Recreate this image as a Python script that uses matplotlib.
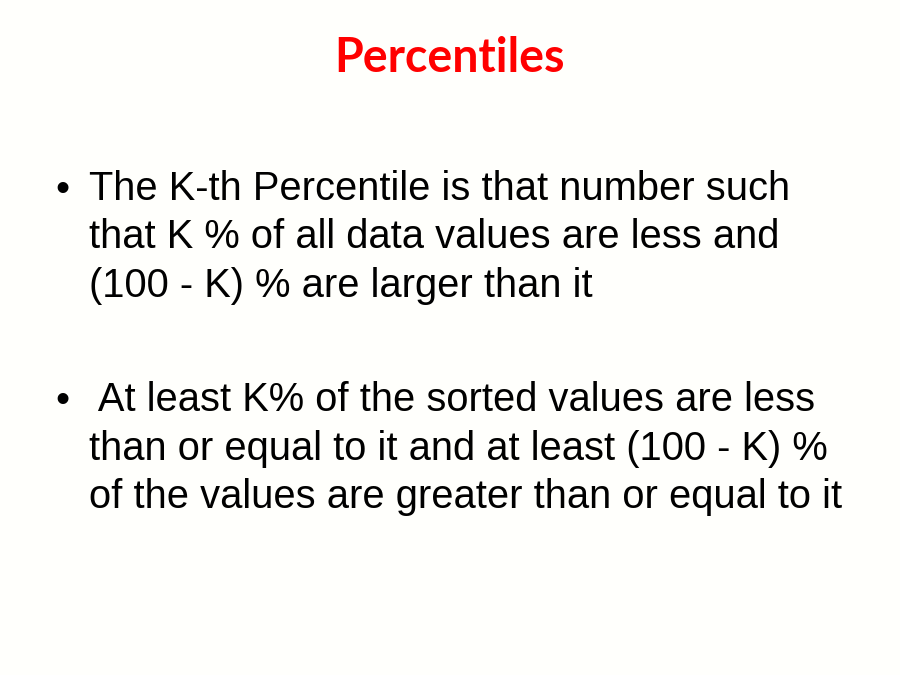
import matplotlib.pyplot as plt

title = 'Percentiles'
bullet1 = ['The K-th Percentile is that number such',
           'that K % of all data values are less and',
           '(100 - K) % are larger than it']
bullet2 = [' At least K% of the sorted values are less',
           'than or equal to it and at least (100 - K) %',
           'of the values are greater than or equal to it']

W, H = 900, 675
fig = plt.figure(figsize=(9, 6.75), dpi=100)
fig.patch.set_facecolor('#fffffc')


def put(x, y, s, **kw):
    fig.text(x / W, 1 - y / H, s, va='baseline', **kw)


put(450, 72, title, ha='center', fontsize=33.5, fontweight='bold',
    color='#ff0000', family='Lato')

body = dict(fontsize=28.7, color='#000000', family='Liberation Sans')
line_h = 48.5

for block, y0 in [(bullet1, 200), (bullet2, 411)]:
    put(55, y0 + 1, '•', fontsize=29, color='#000000', family='Liberation Sans')
    for i, line in enumerate(block):
        put(89, y0 + i * line_h, line, **body)

fig.savefig('out.png', dpi=100, facecolor=fig.get_facecolor())
